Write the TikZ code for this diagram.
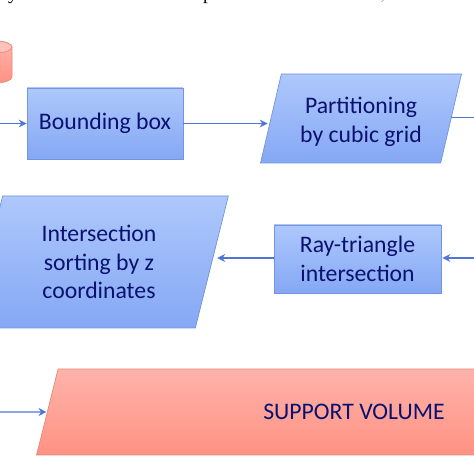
\documentclass[tikz,border=0pt]{standalone}
\usepackage{fontspec}
\setmainfont{Carlito}
\newfontfamily\cutfont{Liberation Serif}
\usetikzlibrary{positioning, calc, shapes.geometric, arrows.meta}
\definecolor{boxTop}{HTML}{AEC8FC}
\definecolor{boxBot}{HTML}{85A8F4}
\definecolor{boxLine}{HTML}{7494DE}
\definecolor{redTop}{HTML}{FFB3AB}
\definecolor{redBot}{HTML}{FF9283}
\definecolor{redLine}{HTML}{E58C74}
\definecolor{arrLine}{HTML}{4F75D6}
\definecolor{txtNavy}{HTML}{0B1170}

\begin{document}
\begin{tikzpicture}[
    >={Stealth[length=4.5pt,width=4.5pt]},
    font=\fontsize{13.5}{16.2}\selectfont,
    step box/.style={rectangle, draw=boxLine, top color=boxTop, bottom color=boxBot, text=txtNavy, align=center, inner sep=0pt},
    slant box/.style={trapezium, trapezium left angle=#1, trapezium right angle={180-#1}, trapezium stretches=true, draw=boxLine, top color=boxTop, bottom color=boxBot, text=txtNavy, align=center, inner sep=0pt},
    volume box/.style={slant box=#1, draw=redLine, top color=redTop, bottom color=redBot},
    cut text/.style={anchor=base, inner sep=0pt, font=\cutfont\fontsize{11}{13}\selectfont},
    arr/.style={->, arrLine, thick}
]

\clip (0,0) rectangle (9.48,9.48);

\node[cut text] (lineA) at (0.26, 9.48) {y};
\node[cut text] (lineB) at (4.16, 9.48) {p};
\node[cut text, text=black!40] (lineC) at (7.66, 9.48) {,};

\draw[redLine, top color=redTop, bottom color=redBot] (-0.44, 8.54) arc (180:0:0.34 and 0.12)
    -- (0.24, 7.94) arc (0:-180:0.34 and 0.12) -- cycle;
\draw[redLine, fill=redTop!80!white] (-0.10, 8.54) ellipse (0.34 and 0.12);

\node[step box, minimum width=3.12cm, minimum height=1.42cm] (bbox) at (2.10, 7.01) {Bounding box};
\node[slant box=74, minimum width=4.04cm, minimum height=1.78cm] (grid) at (7.22, 7.11) {\rule{0pt}{13pt}Partitioning\\by cubic grid};
\node[step box, minimum width=3.34cm, minimum height=1.36cm] (ray) at (7.15, 4.30) {Ray-triangle\\intersection};
\node[slant box=75, minimum width=5.22cm, minimum height=2.64cm] (sort) at (1.98, 4.24) {Intersection\\sorting by z\\coordinates};
\node[volume box=67, minimum width=12.72cm, minimum height=1.72cm] (volume) at (7.08, 1.24) {SUPPORT VOLUME};

\coordinate (inBox) at (0, 7.01);
\coordinate (outGrid) at (9.48, 7.13);
\coordinate (inRay) at (9.48, 4.32);
\coordinate (inVolume) at (0, 1.24);

\draw[arr] (inBox) -- (bbox.west);
\draw[arr] (bbox.east) -- ([xshift=-0.06cm]grid.west |- bbox.east);
\draw[arrLine, thick] (outGrid) -- (outGrid -| grid.east);
\draw[arr] (inRay) -- ([xshift=0.02cm]ray.east |- inRay);
\draw[arr] (ray.west |- inRay) -- ([xshift=0.1cm]sort.east |- inRay);
\draw[arr] (inVolume) -- ([xshift=-0.01cm]volume.west);
\end{tikzpicture}
\end{document}
